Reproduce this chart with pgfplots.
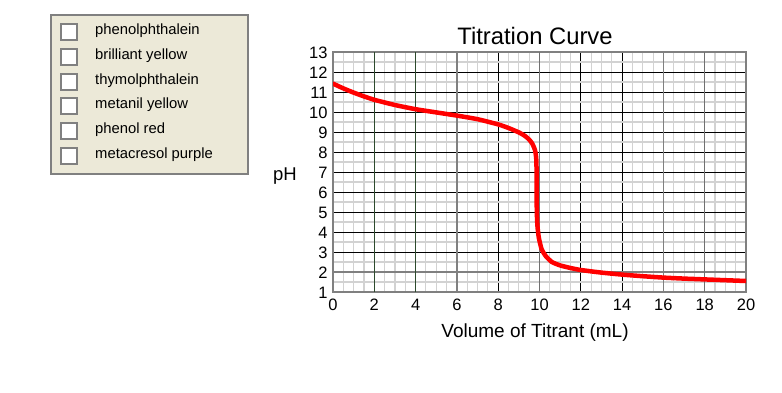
\documentclass[border=0pt]{standalone}
\usepackage{fontspec}
\setmainfont{Liberation Sans}
\usepackage{pgfplots}
\pgfplotsset{compat=1.18}
\definecolor{gridminor}{HTML}{D2D2D2}
\definecolor{framegray}{HTML}{808080}
\definecolor{panelbg}{HTML}{ECE9D8}
\definecolor{darkgreen}{HTML}{2E4A2E}
\definecolor{midgray}{HTML}{707070}
\begin{document}
\begin{tikzpicture}[x=1pt,y=1pt]
\useasboundingbox (0,0) rectangle (782,392);
% indicator panel
\draw[framegray, line width=1.5pt, fill=panelbg] (51,218) rectangle (248,377);
\foreach \yy/\txt in {360/phenolphthalein,335/brilliant yellow,310/thymolphthalein,286/metanil yellow,261/phenol red,236/metacresol purple}{
  \draw[framegray, line width=1.2pt, fill=white] (61,\yy-8) rectangle (77,\yy+8);
  \node[anchor=west, inner sep=0pt, font=\fontsize{14.8}{17}\selectfont] at (95,\yy+1) {\txt};
}
\begin{axis}[
  at={(333pt,100pt)}, anchor=south west,
  width=413pt, height=240pt, scale only axis,
  xmin=0, xmax=20, ymin=1, ymax=13,
  xtick={0,2,...,20}, ytick={1,2,...,13},
  minor x tick num=3, minor y tick num=1,
  grid=both,
  major grid style={black, line width=0.9pt},
  minor grid style={gridminor, line width=1.1pt},
  major tick length=0pt, minor tick length=0pt,
  axis line style={framegray, line width=1.8pt},
  /pgf/number format/assume math mode=true,
  ticklabel style={font=\fontsize{16.5}{18}\selectfont},
  yticklabel style={anchor=base east, yshift=-6pt, xshift=-2pt},
  xticklabel style={anchor=base, yshift=-18pt},
  extra x ticks={6,16}, extra x tick labels={},
  extra x tick style={grid=major, major grid style={framegray, line width=1.6pt}},
  extra y ticks={2}, extra y tick labels={},
  extra y tick style={grid=major, major grid style={framegray, line width=1.6pt}},
  clip=true,
]
\draw[darkgreen, line width=0.9pt] (axis cs:2,1) -- (axis cs:2,13);
\draw[darkgreen, line width=0.9pt] (axis cs:4,1) -- (axis cs:4,13);
\draw[midgray, line width=1.2pt] (axis cs:10,1) -- (axis cs:10,13);
\draw[midgray, line width=1.2pt] (axis cs:18,1) -- (axis cs:18,13);
\addplot[red, line width=4.5pt, smooth, tension=0.35, line join=round, line cap=round] coordinates {
(0,11.42) (0.5,11.18) (1,10.97) (1.5,10.78) (2,10.61) (3,10.35) (4,10.14) (5,9.98)
(6,9.82) (7,9.64) (8,9.38) (8.5,9.2) (9,8.98) (9.3,8.8) (9.5,8.62) (9.65,8.42)
(9.78,8.1) (9.84,7.7) (9.86,7.0) (9.86,6.0) (9.87,5.0) (9.9,4.3) (9.97,3.7)
(10.1,3.15) (10.3,2.8) (10.6,2.5) (11,2.33) (11.5,2.2) (12,2.1) (13,1.97)
(14,1.87) (15,1.79) (16,1.72) (17,1.67) (18,1.63) (19,1.59) (20,1.55)
};
\end{axis}
\node[font=\fontsize{23.8}{27}\selectfont] at (535,356) {Titration Curve};
\node[font=\fontsize{19}{22}\selectfont] at (535,59) {Volume of Titrant (mL)};
\node[font=\fontsize{18.5}{21}\selectfont] at (285,216) {pH};
\end{tikzpicture}
\end{document}
